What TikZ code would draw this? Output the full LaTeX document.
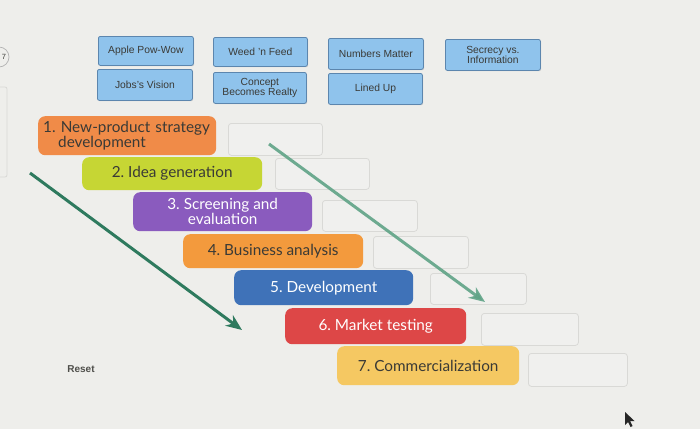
\documentclass[tikz,border=0pt]{standalone}
\usepackage{fontspec}
\setmainfont{Lato}
\setsansfont{Liberation Sans}
\usetikzlibrary{arrows.meta,shadows}
\definecolor{bg}{HTML}{EEEEEB}
\definecolor{lblfill}{HTML}{8FC3EC}
\definecolor{lbldraw}{HTML}{5C86AE}
\definecolor{slotdraw}{HTML}{D9D9D6}
\definecolor{slotfill}{HTML}{F0F0EE}
\definecolor{cA}{HTML}{F08B48}
\definecolor{cB}{HTML}{C6D634}
\definecolor{cC}{HTML}{8A5BBE}
\definecolor{cD}{HTML}{F39A3D}
\definecolor{cE}{HTML}{3F72B8}
\definecolor{cF}{HTML}{DD4747}
\definecolor{cG}{HTML}{F5C862}
\definecolor{dtext}{HTML}{3A3A36}
\definecolor{arrA}{HTML}{2E7A5E}
\definecolor{arrB}{HTML}{5FA386}
\frenchspacing
\tikzset{
  lbl/.style={draw=lbldraw, fill=lblfill, rounded corners=2pt, line width=0.8pt,
    anchor=north west, inner sep=1pt, align=center, text=dtext,
    font=\sffamily\fontsize{10.3}{10.5}\selectfont,
    drop shadow={shadow xshift=0.8pt, shadow yshift=-0.8pt, opacity=0.25}},
  stage/.style={rounded corners=7pt, anchor=north west, inner sep=0pt, align=center,
    font=\fontsize{15.3}{15}\selectfont},
  slot/.style={draw=slotdraw, fill=slotfill, rounded corners=3pt, line width=0.8pt, anchor=north west},
  arr/.style={line width=3pt, -{Stealth[length=16pt,width=13pt,inset=5pt]}},
}
\begin{document}
\begin{tikzpicture}[x=1pt,y=-1pt]
\fill[bg] (0,0) rectangle (700,429);
\useasboundingbox (0,0) rectangle (700,429);
% left edge remnants
\draw[gray!60, line width=0.7pt] (-1,57) circle (10pt);
\node[font=\sffamily\fontsize{7.5}{8}\selectfont, text=dtext, inner sep=0pt] (qnum) at (4,57) {7};
\draw[draw=slotdraw, line width=0.8pt, rounded corners=2pt] (-6,87) rectangle (7,177);
% label boxes
\node[lbl, minimum width=95pt, minimum height=29pt] (apple) at (98,36) {Apple Pow-Wow};
\node[lbl, minimum width=94pt, minimum height=29pt] (weed) at (213,37) {Weed 'n Feed};
\node[lbl, minimum width=95pt, minimum height=31pt] (numbers) at (328,38) {Numbers Matter};
\node[lbl, minimum width=95pt, minimum height=31pt] (secrecy) at (445,39) {Secrecy vs.\\Information};
\node[lbl, minimum width=95pt, minimum height=31pt] (jobs) at (97,69) {Jobs's Vision};
\node[lbl, minimum width=93pt, minimum height=31pt] (concept) at (213,72) {Concept\\Becomes Realty};
\node[lbl, minimum width=94pt, minimum height=31pt] (lined) at (328,73) {Lined Up};
% empty slots
\node[slot, minimum width=94pt, minimum height=32pt] (s1) at (228,123) {};
\node[slot, minimum width=94pt, minimum height=31pt] (s2) at (275,158) {};
\node[slot, minimum width=95pt, minimum height=31pt] (s3) at (322,200) {};
\node[slot, minimum width=95pt, minimum height=32pt] (s4) at (373,236) {};
\node[slot, minimum width=96pt, minimum height=31pt] (s5) at (430,273) {};
\node[slot, minimum width=97pt, minimum height=32pt] (s6) at (481,313) {};
\node[slot, minimum width=99pt, minimum height=33pt] (s7) at (528,353) {};
% stages
\node[stage, fill=cA, text=dtext, minimum width=178pt, minimum height=39pt, align=left, text width=174pt] (st1) at (38,116) {\hspace*{3pt}1. New-product strategy\\\hspace*{18pt}development};
\node[stage, fill=cB, text=dtext, minimum width=180pt, minimum height=33pt] (st2) at (82,157) {2. Idea generation};
\node[stage, fill=cC, text=white, minimum width=179pt, minimum height=39pt] (st3) at (133,192) {3. Screening and\\evaluation};
\node[stage, fill=cD, text=dtext, minimum width=180pt, minimum height=34pt] (st4) at (183,234) {4. Business analysis};
\node[stage, fill=cE, text=white, minimum width=179pt, minimum height=35pt] (st5) at (234,270) {5. Development};
\node[stage, fill=cF, text=white, minimum width=181pt, minimum height=36pt] (st6) at (285,308) {6. Market testing};
\node[stage, fill=cG, text=dtext, minimum width=182pt, minimum height=39pt] (st7) at (337,346) {7. Commercialization};
% arrows
\coordinate (a1s) at (30,173);
\coordinate (a1e) at (242,330);
\coordinate (a2s) at (269,144);
\coordinate (a2e) at (485,302);
\draw[arr, arrA] (a1s) -- (a1e);
\draw[arr, arrB, opacity=0.9] (a2s) -- (a2e);
% reset
\node[font=\sffamily\bfseries\fontsize{10}{10}\selectfont, text=dtext!90] (reset) at (81,369) {Reset};
% cursor
\coordinate (cur) at (625,412);
\fill[black!85] (cur) -- ++(0,13) -- ++(3,-3) -- ++(2.5,5) -- ++(2,-1) -- ++(-2.5,-5) -- ++(4.5,0) -- cycle;
\end{tikzpicture}
\end{document}
